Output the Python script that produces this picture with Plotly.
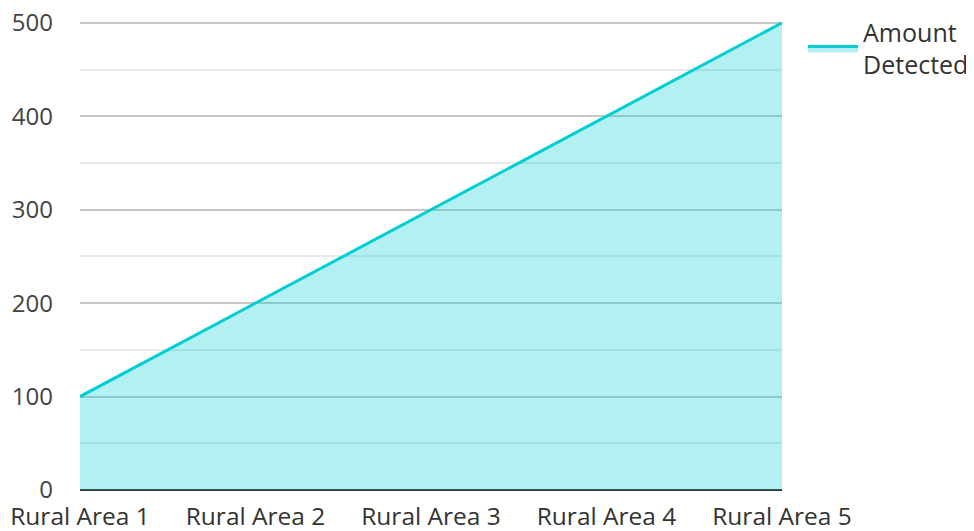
import plotly.graph_objects as go

categories = ["Rural Area 1", "Rural Area 2", "Rural Area 3", "Rural Area 4", "Rural Area 5"]
amount_detected = [100, 200, 300, 400, 500]
series_name = "Amount<br>Detected"

fig = go.Figure()
fig.add_trace(go.Scatter(
    x=categories, y=amount_detected, name=series_name,
    mode="lines", fill="tozeroy",
    line=dict(color="#00CED1", width=3),
    fillcolor="rgba(0,206,209,0.3)",
))

fig.update_layout(
    width=974, height=531,
    margin=dict(l=72, r=200, t=12, b=49, autoexpand=False),
    paper_bgcolor="white", plot_bgcolor="white",
    font=dict(family="Open Sans", size=24, color="#444"),
    showlegend=True,
    legend=dict(x=1.03, y=1.0226, xanchor="left", yanchor="top",
                font=dict(size=25, color="#333"), itemwidth=50,
                tracegroupgap=0),
    xaxis=dict(range=[0, 4], showgrid=False, zeroline=False, showline=False,
               ticks="", ticklabelstandoff=9,
               tickfont=dict(size=24.5, color="#333"), automargin=False),
    yaxis=dict(range=[0, 503], tick0=0, dtick=100, showgrid=True, gridcolor="#c8c8c8", gridwidth=1.5,
               zeroline=True, zerolinecolor="#333", zerolinewidth=2,
               ticks="", ticklabelstandoff=26, ticklabeloverflow="allow",
               tickfont=dict(size=24, color="#444"),
               minor=dict(dtick=50, showgrid=True, gridcolor="#e8e8e8", gridwidth=1.5),
               automargin=False),
)

fig.write_html("out.html")
